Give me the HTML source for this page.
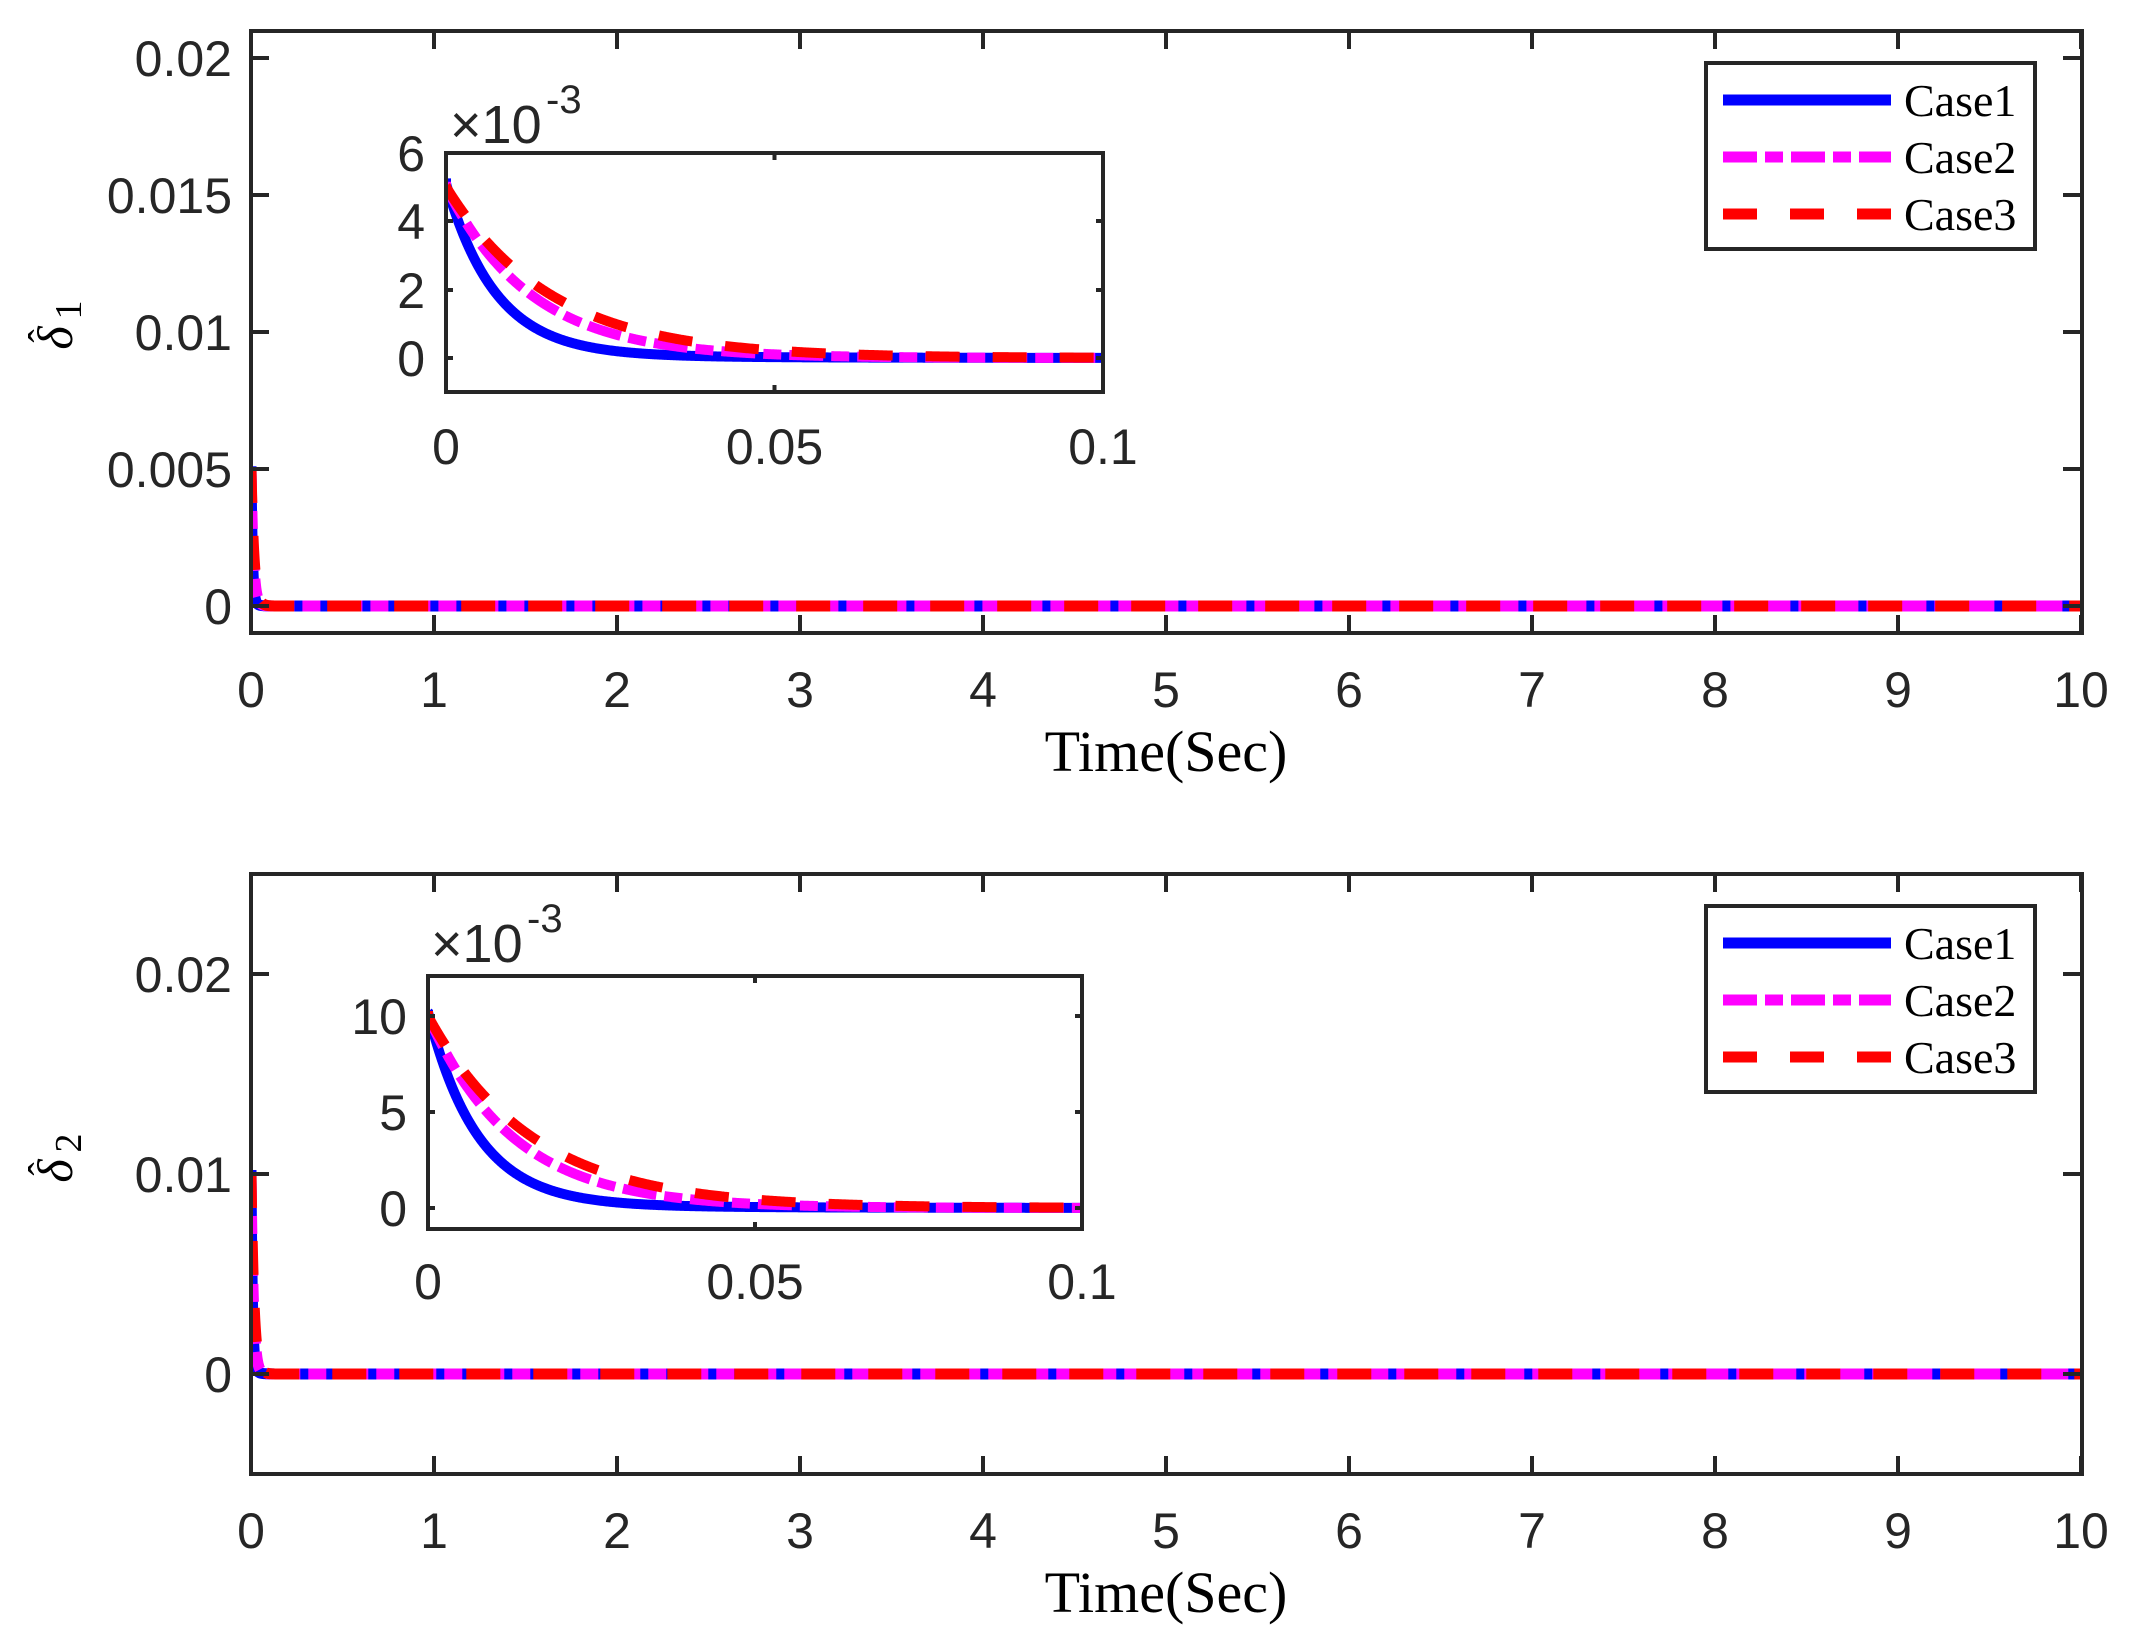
<!DOCTYPE html>
<html><head><meta charset="utf-8"><style>
html,body{margin:0;padding:0;background:#fff;}
svg{display:block;}
</style></head><body>
<svg id="s" width="2136" height="1640" viewBox="0 0 2136 1640" xmlns="http://www.w3.org/2000/svg">
<defs>
<clipPath id="c1"><rect x="251" y="31" width="1831" height="602"/></clipPath>
<clipPath id="c2"><rect x="251" y="874" width="1831" height="600"/></clipPath>
<clipPath id="i1"><rect x="446" y="153" width="657" height="239"/></clipPath>
<clipPath id="i2"><rect x="428" y="976" width="654" height="253"/></clipPath>
</defs>
<g id="g"></g>
</svg>
<script>
var NS="http://www.w3.org/2000/svg",g=document.getElementById('g');
var SANS='font-family:"Liberation Sans",sans-serif;fill:#262626;font-size:',SERIF='font-family:"Liberation Serif",serif;fill:#000;font-size:';
function el(t,a,txt,parent){var e=document.createElementNS(NS,t);for(var k in a)e.setAttribute(k,a[k]);if(txt!=null)e.textContent=txt;(parent||g).appendChild(e);return e;}
function line(x1,y1,x2,y2,w){el('line',{x1:x1,y1:y1,x2:x2,y2:y2,stroke:'#262626','stroke-width':w||4});}
function curves(X0,X1,xmax,Y0,Yv,yscale,A,taus,clip,w){
 var cols=['#0000ff','#ff00ff','#ff0000'],das=['none','34 8 18 8','34 33'];
 for(var c=0;c<3;c++){var p=[];var N=800;
  for(var i=0;i<=N;i++){var t=xmax*Math.pow(i/N,2.2);var v=A*Math.exp(-t/taus[c]);if(c==0)v+=A*0.02*Math.exp(-t/0.03);
   p.push((X0+(X1-X0)*t/xmax).toFixed(2)+','+(Yv-v*yscale).toFixed(2));}
  el('polyline',{points:p.join(' '),fill:'none',stroke:cols[c],'stroke-width':w,'stroke-dasharray':das[c],'clip-path':'url(#'+clip+')'});}
}
function panel(top,bot,yticks,ylab,zeroY,perUnitY,A,leg,lab,sub){
 curves(251,2081,10,0,zeroY,perUnitY,A,[0.0075,0.013,0.016],lab,11);
 el('rect',{x:251,y:top,width:1831,height:bot-top,fill:'none',stroke:'#262626','stroke-width':4});
 for(var i=0;i<=10;i++){var x=251+183*i;line(x,bot,x,bot-18);line(x,top,x,top+18);
  el('text',{x:x,y:bot+74,'text-anchor':'middle',style:SANS+'50px'},String(i));}
 for(var j=0;j<yticks.length;j++){var y=yticks[j][0];line(251,y,269,y);line(2081,y,2063,y);
  el('text',{x:232,y:y+18,'text-anchor':'end',style:SANS+'50px'},yticks[j][1]);}
 el('text',{x:1166,y:bot+138,'text-anchor':'middle',style:SERIF+'58px'},'Time(Sec)');
 var gr=el('g',{transform:'translate(72,'+ylab+') rotate(-90)'});
 el('text',{x:-8,y:0,'text-anchor':'middle',style:SERIF+'50px;font-style:italic'},'\u03B4',gr);
 el('text',{x:-6,y:-16,'text-anchor':'middle',style:SERIF+'40px'},'\u02C6',gr);
 el('text',{x:20,y:9,'text-anchor':'middle',style:SERIF+'38px'},sub,gr);
 var L=leg;el('rect',{x:1706,y:L,width:329,height:186,fill:'#fff',stroke:'#262626','stroke-width':4});
 var cols=['#0000ff','#ff00ff','#ff0000'],das=['none','34 8 18 8','34 33'],nm=['Case1','Case2','Case3'];
 for(var k=0;k<3;k++){var yy=L+37+57*k;
  el('line',{x1:1723,y1:yy,x2:1891,y2:yy,stroke:cols[k],'stroke-width':11,'stroke-dasharray':das[k]});
  el('text',{x:1904,y:yy+16,style:SERIF+'46px'},nm[k]);}
}
panel(31,633,[[58,'0.02'],[195,'0.015'],[332,'0.01'],[469,'0.005'],[606,'0']],330,606,137/0.005,0.005,63,'c1','1');
panel(874,1474,[[974,'0.02'],[1174,'0.01'],[1374,'0']],1163,1374,200/0.01,0.01,906,'c2','2');
function inset(L,R,T,B,yt,zeroY,perY,A,lx,xb,tx,ty,clip){
 el('rect',{x:L,y:T,width:R-L,height:B-T,fill:'#fff'});
 curves(L,R,0.1,0,zeroY,perY,A,[0.0075,0.013,0.016],clip,10);
 el('rect',{x:L,y:T,width:R-L,height:B-T,fill:'none',stroke:'#262626','stroke-width':4});
 var xs=[[L,'0'],[(L+R)/2,'0.05'],[R,'0.1']];
 for(var i=0;i<3;i++){line(xs[i][0],B,xs[i][0],B-7);line(xs[i][0],T,xs[i][0],T+7);
  el('text',{x:xs[i][0],y:xb,'text-anchor':'middle',style:SANS+'50px'},xs[i][1]);}
 for(var j=0;j<yt.length;j++){var y=yt[j][0];line(L,y,L+7,y);line(R,y,R-7,y);
  el('text',{x:lx,y:y+18,'text-anchor':'end',style:SANS+'50px'},yt[j][1]);}
 el('text',{x:tx,y:ty,style:SANS+'54px'},'\u00D710');
 el('text',{x:tx+96,y:ty-30,style:SANS+'40px'},'-3');
}
inset(446,1103,153,392,[[153,'6'],[221,'4'],[290,'2'],[358,'0']],358,68.5/2e-3,0.005,425,464,450,143,'i1');
inset(428,1082,976,1229,[[1016,'10'],[1112,'5'],[1208,'0']],1208,96/5e-3,0.01,407,1299,431,962,'i2');
</script>
</body></html>
